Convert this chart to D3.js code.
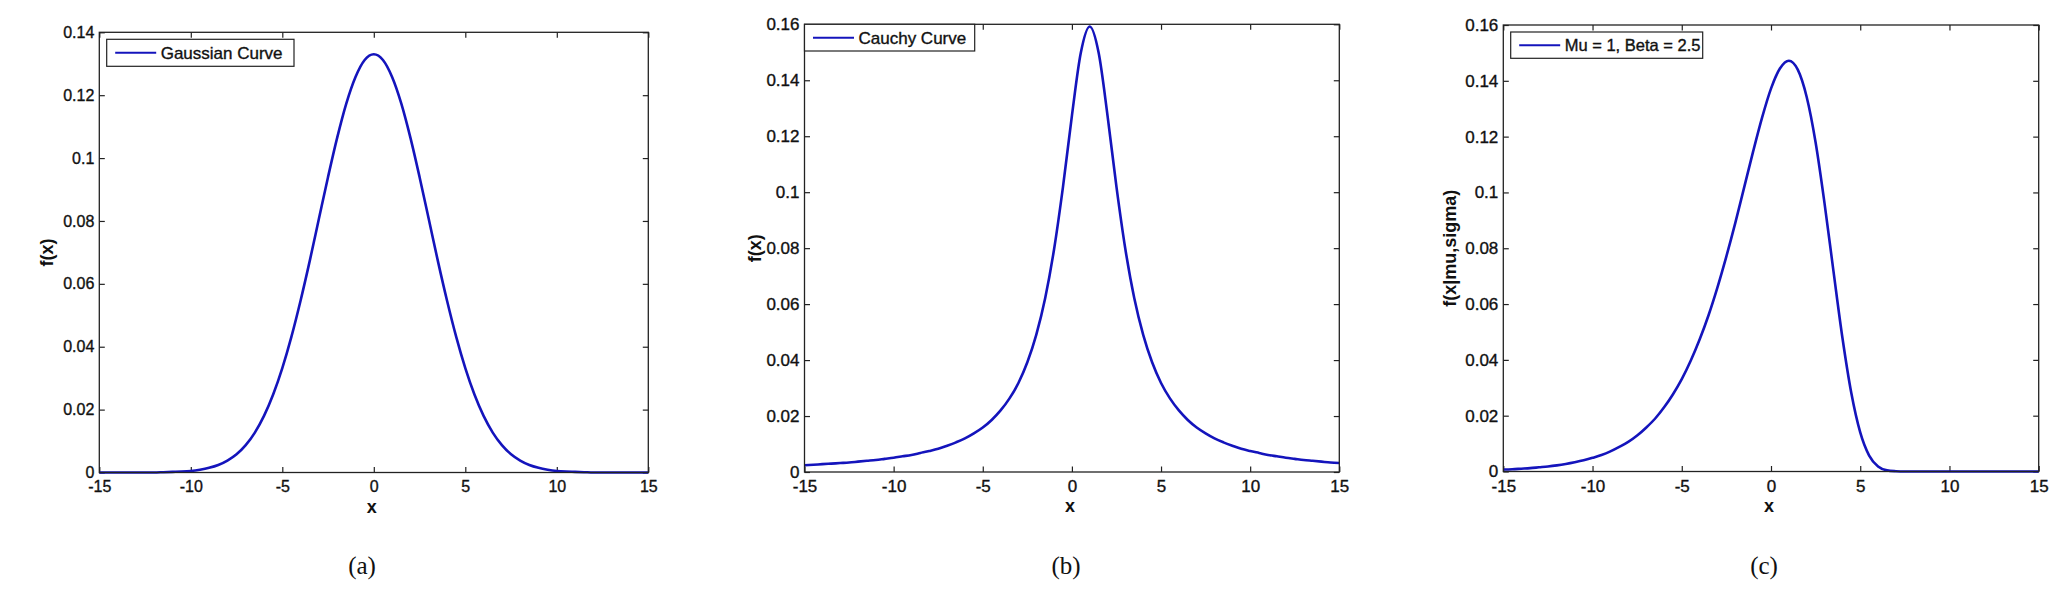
<!DOCTYPE html>
<html>
<head>
<meta charset="utf-8">
<script src="https://cdn.jsdelivr.net/npm/d3@7"></script>
<style>
  body { margin: 0; background: #fff; }
  svg { display: block; }
  .tick text { font-family: "Liberation Sans", Arial, sans-serif; fill: #111; stroke: #111; stroke-width: 0.35; }
  .tick line { stroke: #222; stroke-width: 1.2; }
</style>
</head>
<body>
<svg id="fig" width="2068" height="614"></svg>
<script>
// sample points along x (shared by the three curves)
var xGrid = [-15, -14.5, -14, -13.5, -13, -12.5, -12, -11.5, -11, -10.5, -10, -9.5, -9, -8.5, -8, -7.5,
  -7, -6.5, -6, -5.5, -5, -4.5, -4, -3.5, -3, -2.5, -2, -1.5, -1, -0.5, 0, 0.5, 1, 1.5, 2, 2.5, 3,
  3.5, 4, 4.5, 5, 5.5, 6, 6.5, 7, 7.5, 8, 8.5, 9, 9.5, 10, 10.5, 11, 11.5, 12, 12.5, 13, 13.5, 14,
  14.5, 15];

// (a) Gaussian curve
var gaussianY = [0, 0, 0, 0, 0, 0, 0, 0.0001, 0.0002, 0.0003, 0.0005, 0.0009, 0.0015, 0.0024, 0.0038, 0.0058,
  0.0087, 0.0127, 0.0180, 0.0248, 0.0332, 0.0432, 0.0547, 0.0673, 0.0807, 0.0940, 0.1065, 0.1174, 0.1258, 0.1312,
  0.1330,
  0.1312, 0.1258, 0.1174, 0.1065, 0.0940, 0.0807, 0.0673, 0.0547, 0.0432, 0.0332, 0.0248, 0.0180, 0.0127, 0.0087,
  0.0058, 0.0038, 0.0024, 0.0015, 0.0009, 0.0005, 0.0003, 0.0002, 0.0001, 0, 0, 0, 0, 0, 0, 0];

// (b) Cauchy curve
var cauchyY = [0.0024, 0.0026, 0.0028, 0.0030, 0.0032, 0.0034, 0.0037, 0.0040, 0.0043, 0.0047, 0.0051, 0.0056,
  0.0061, 0.0068, 0.0075, 0.0083, 0.0094, 0.0106, 0.0120, 0.0138, 0.0159, 0.0186, 0.0220, 0.0263, 0.0318, 0.0392,
  0.0490, 0.0621, 0.0796, 0.1019, 0.1273, 0.1498, 0.1592, 0.1498, 0.1273, 0.1019, 0.0796, 0.0621, 0.0490, 0.0392,
  0.0318, 0.0263, 0.0220, 0.0186, 0.0159, 0.0138, 0.0120, 0.0106, 0.0094, 0.0083, 0.0075, 0.0068, 0.0061, 0.0056,
  0.0051, 0.0047, 0.0043, 0.0040, 0.0037, 0.0034, 0.0032];

// (c) Mu = 1, Beta = 2.5
var gumbelY = [0.0007, 0.0008, 0.0010, 0.0012, 0.0015, 0.0018, 0.0022, 0.0027, 0.0033, 0.0040, 0.0049, 0.0059,
  0.0072, 0.0088, 0.0106, 0.0129, 0.0157, 0.0189, 0.0229, 0.0276, 0.0331, 0.0397, 0.0473, 0.0560, 0.0660, 0.0771,
  0.0891, 0.1019, 0.1147, 0.1268, 0.1372, 0.1444, 0.1472, 0.1440, 0.1342, 0.1179, 0.0961, 0.0718, 0.0480, 0.0281,
  0.0140, 0.0057, 0.0018, 0.0004, 0.0001, 0, 0, 0, 0, 0, 0, 0, 0, 0, 0, 0, 0, 0, 0, 0, 0];

var xTicks = [-15, -10, -5, 0, 5, 10, 15];
var yTicksA = [0, 0.02, 0.04, 0.06, 0.08, 0.1, 0.12, 0.14];
var yTickLabelsA = ["0", "0.02", "0.04", "0.06", "0.08", "0.1", "0.12", "0.14"];
var yTicksBC = [0, 0.02, 0.04, 0.06, 0.08, 0.1, 0.12, 0.14, 0.16];
var yTickLabelsBC = ["0", "0.02", "0.04", "0.06", "0.08", "0.1", "0.12", "0.14", "0.16"];

var legendLabels = ["Gaussian Curve", "Cauchy Curve", "Mu = 1, Beta = 2.5"];
var yLabels = ["f(x)", "f(x)", "f(x|mu,sigma)"];
var xLabel = "x";
var captions = ["(a)", "(b)", "(c)"];

var lineColor = "#1414bc";
var sans = "'Liberation Sans', Arial, sans-serif";

var panels = [
  { left: 99.3, right: 648.3, top: 32.3, bottom: 472.5, yMax: 0.14, yTicks: yTicksA, yTickLabels: yTickLabelsA,
    values: gaussianY, tickFont: 16, legend: { x: 106.7, y: 39.3, w: 187.3, h: 27, font: 17 },
    yLabelX: 47, capX: 362 },
  { left: 804.5, right: 1339.3, top: 24.3, bottom: 472, yMax: 0.16, yTicks: yTicksBC, yTickLabels: yTickLabelsBC,
    values: cauchyY, tickFont: 17, legend: { x: 804.5, y: 24.3, w: 170.2, h: 26.7, font: 17 },
    yLabelX: 755, capX: 1066 },
  { left: 1503.3, right: 2038.7, top: 25, bottom: 471.5, yMax: 0.16, yTicks: yTicksBC, yTickLabels: yTickLabelsBC,
    values: gumbelY, tickFont: 17, legend: { x: 1510.7, y: 32, w: 192, h: 26.3, font: 16.5 },
    yLabelX: 1450, capX: 1764 }
];

var svg = d3.select("#fig");
svg.append("rect").attr("width", 2068).attr("height", 614).attr("fill", "#fff");

panels.forEach(function(p, i) {
  var x = d3.scaleLinear().domain([-15, 15]).range([p.left, p.right]);
  var y = d3.scaleLinear().domain([0, p.yMax]).range([p.bottom, p.top]);
  var g = svg.append("g");
  var tk = 5.5;

  // ticks on all four sides, pointing inward
  var bottomAxis = g.append("g").attr("transform", "translate(0," + p.bottom + ")")
    .call(d3.axisBottom(x).tickValues(xTicks).tickSize(-tk).tickSizeOuter(0).tickPadding(8)
      .tickFormat(function(d) { return d; }));
  var leftAxis = g.append("g").attr("transform", "translate(" + p.left + ",0)")
    .call(d3.axisLeft(y).tickValues(p.yTicks).tickSize(-tk).tickSizeOuter(0).tickPadding(5)
      .tickFormat(function(d, j) { return p.yTickLabels[j]; }));
  g.append("g").attr("transform", "translate(0," + p.top + ")")
    .call(d3.axisTop(x).tickValues(xTicks).tickSize(-tk).tickSizeOuter(0).tickFormat(""));
  g.append("g").attr("transform", "translate(" + p.right + ",0)")
    .call(d3.axisRight(y).tickValues(p.yTicks).tickSize(-tk).tickSizeOuter(0).tickFormat(""));
  g.selectAll(".domain").remove();
  bottomAxis.selectAll("text").attr("font-size", p.tickFont).attr("font-family", sans);
  leftAxis.selectAll("text").attr("font-size", p.tickFont).attr("font-family", sans);

  // curve
  var pts = xGrid.map(function(v, j) { return [v, p.values[j]]; });
  var line = d3.line()
    .x(function(d) { return x(d[0]); })
    .y(function(d) { return y(d[1]); })
    .curve(d3.curveMonotoneX);
  g.append("path").datum(pts)
    .attr("d", line)
    .attr("fill", "none")
    .attr("stroke", lineColor)
    .attr("stroke-width", 2.6)
    .attr("stroke-linejoin", "round");

  // axes box
  g.append("rect")
    .attr("x", p.left).attr("y", p.top)
    .attr("width", p.right - p.left).attr("height", p.bottom - p.top)
    .attr("fill", "none").attr("stroke", "#222").attr("stroke-width", 1.3);

  // legend
  var L = p.legend;
  var lg = g.append("g");
  lg.append("rect").attr("x", L.x).attr("y", L.y).attr("width", L.w).attr("height", L.h)
    .attr("fill", "#fff").attr("stroke", "#222").attr("stroke-width", 1.2);
  lg.append("line")
    .attr("x1", L.x + 8.5).attr("x2", L.x + 49.5)
    .attr("y1", L.y + L.h / 2).attr("y2", L.y + L.h / 2)
    .attr("stroke", lineColor).attr("stroke-width", 2);
  lg.append("text")
    .attr("x", L.x + 54).attr("y", L.y + L.h / 2)
    .attr("dy", "0.36em")
    .attr("font-family", sans).attr("font-size", L.font).attr("fill", "#111")
    .attr("stroke", "#111").attr("stroke-width", 0.35)
    .text(legendLabels[i]);

  // axis labels
  g.append("text")
    .attr("x", (p.left + p.right) / 2 - 2).attr("y", p.bottom + 40)
    .attr("text-anchor", "middle")
    .attr("font-family", sans).attr("font-weight", "bold").attr("font-size", 18).attr("fill", "#111")
    .text(xLabel);
  g.append("text")
    .attr("transform", "translate(" + p.yLabelX + "," + ((p.top + p.bottom) / 2) + ") rotate(-90)")
    .attr("text-anchor", "middle").attr("dy", "0.35em")
    .attr("font-family", sans).attr("font-weight", "bold").attr("font-size", 18).attr("fill", "#111")
    .text(yLabels[i]);

  // panel caption
  svg.append("text")
    .attr("x", p.capX).attr("y", 574)
    .attr("text-anchor", "middle")
    .attr("font-family", "'Liberation Serif', 'Times New Roman', serif").attr("font-size", 25).attr("fill", "#111")
    .text(captions[i]);
});
</script>
</body>
</html>
